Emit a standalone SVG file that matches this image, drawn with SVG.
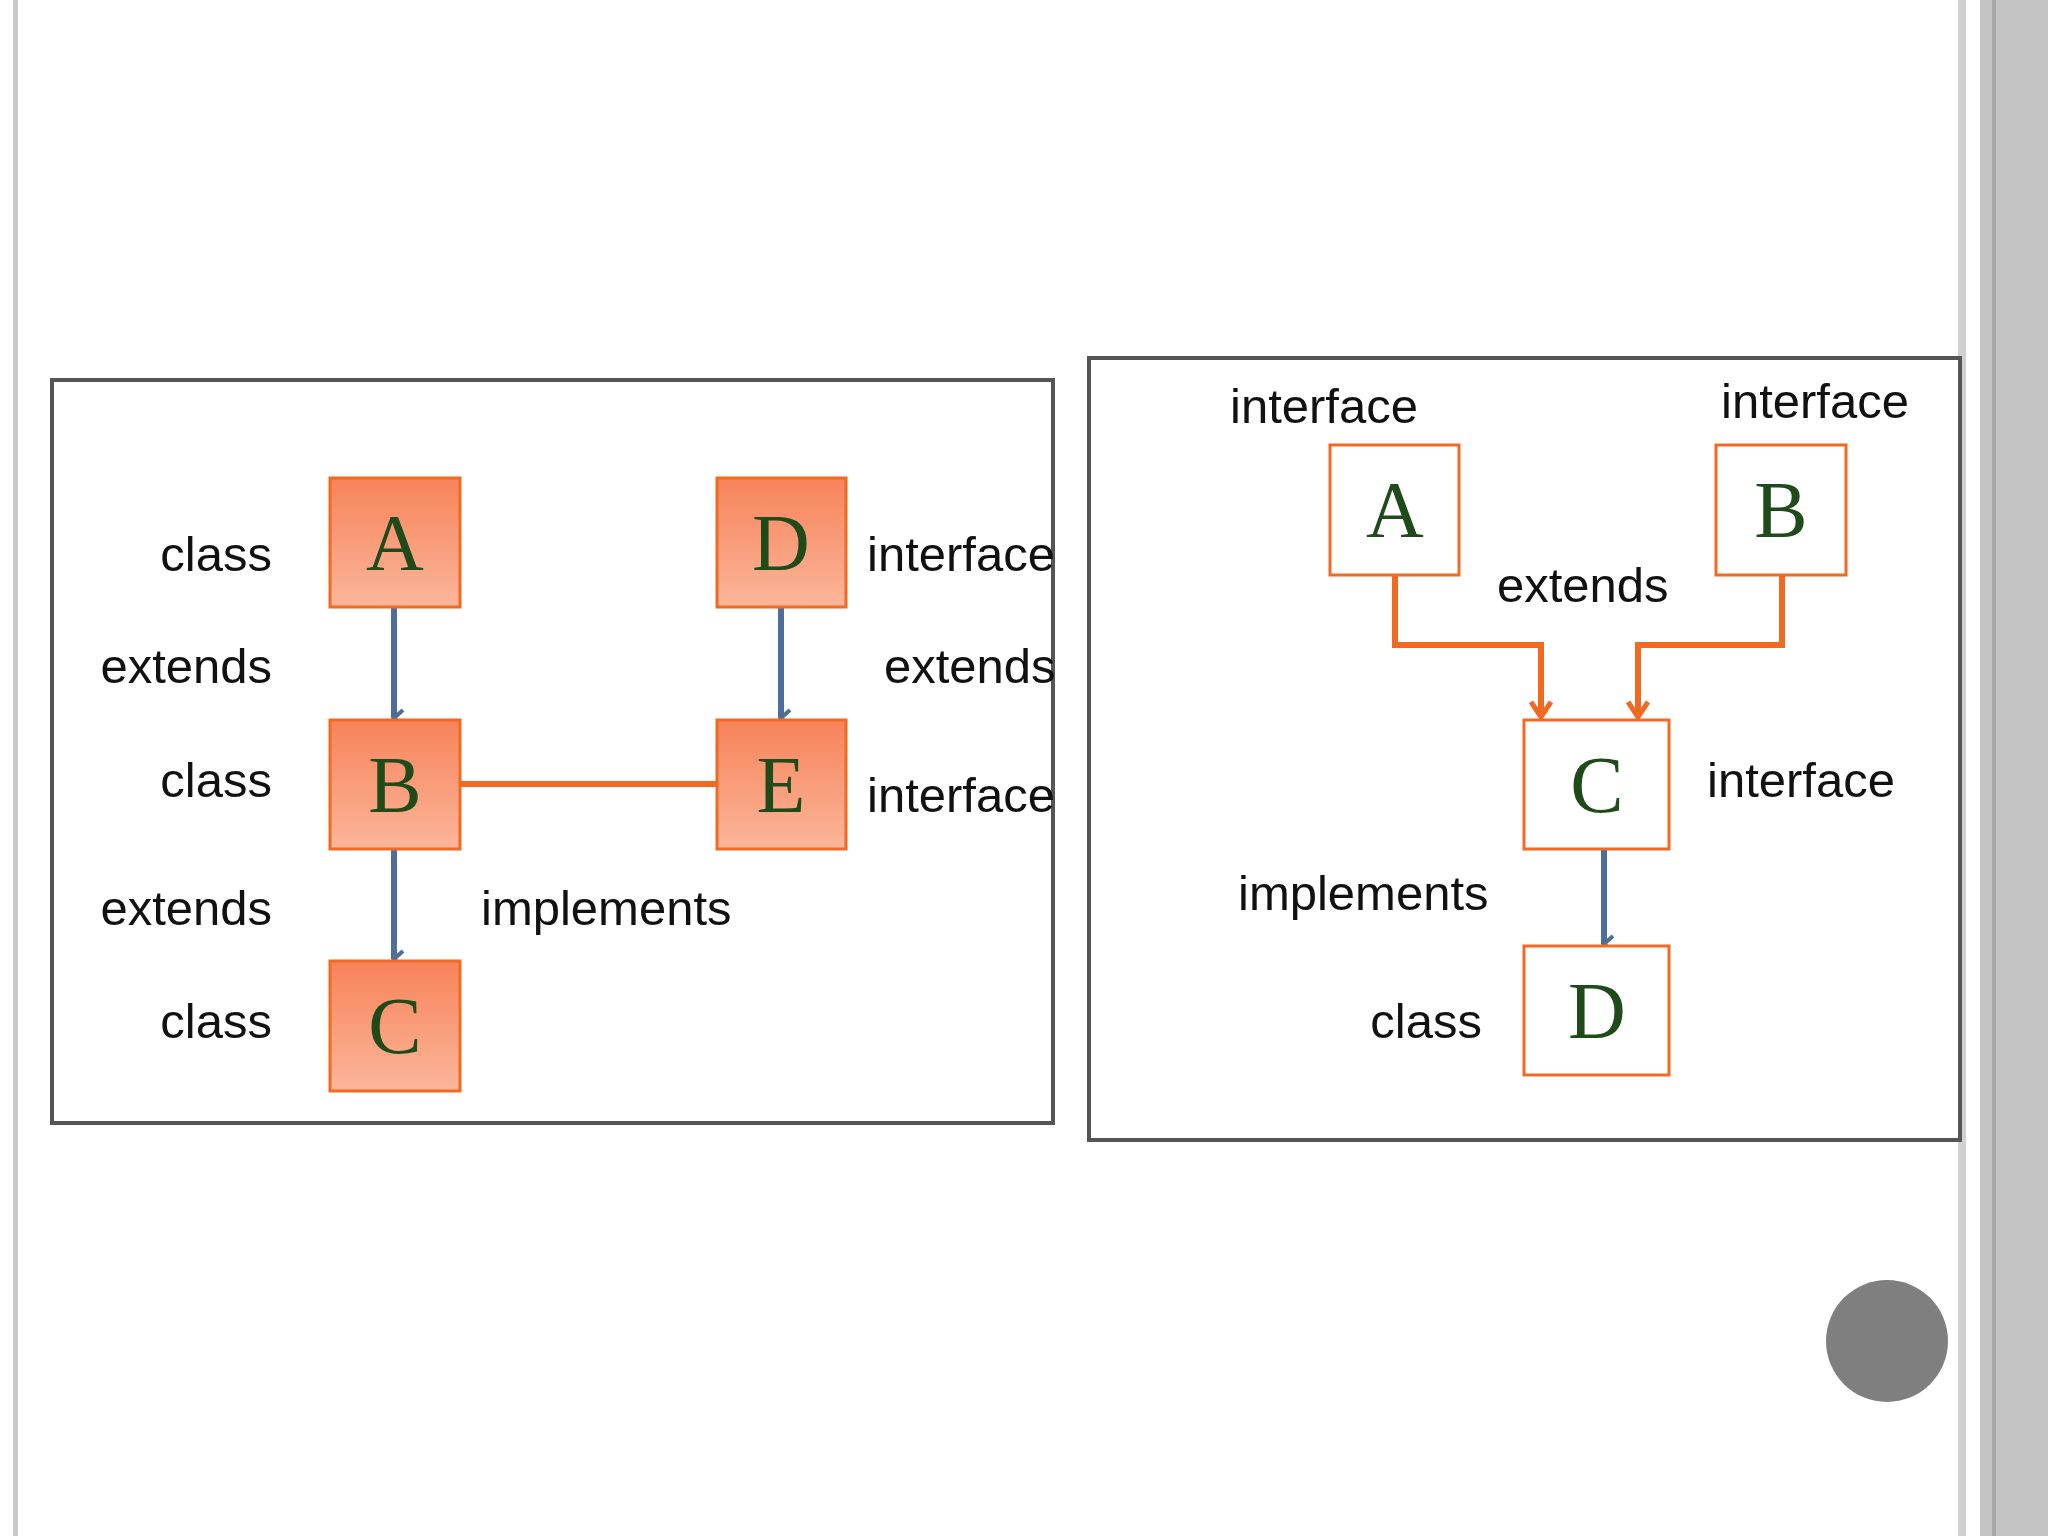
<svg xmlns="http://www.w3.org/2000/svg" width="2048" height="1536" viewBox="0 0 2048 1536">
<defs>
<linearGradient id="og" x1="0" y1="0" x2="0" y2="1"><stop offset="0" stop-color="#f7835a"/><stop offset="1" stop-color="#fbb69a"/></linearGradient>
<marker id="ab" viewBox="0 0 20 20" refX="10" refY="17" markerWidth="20" markerHeight="20" markerUnits="userSpaceOnUse" orient="auto-start-reverse"><path d="M2 8 L10 17 L18 8" fill="none" stroke="#4f6d99" stroke-width="4"/></marker>
<marker id="ao" viewBox="0 0 24 24" refX="12" refY="21" markerWidth="24" markerHeight="24" markerUnits="userSpaceOnUse"><path d="M2 6 L12 21 L22 6" fill="none" stroke="#f26a21" stroke-width="5"/></marker>
</defs>
<style>
.t{font-family:"Liberation Sans",Arial,sans-serif;font-size:49px;fill:#111}
.l{font-family:"Liberation Serif","Times New Roman",serif;font-size:80px;fill:#1f4a1a;text-anchor:middle}
.fn{fill:url(#og);stroke:#f26a21;stroke-width:3}
.wn{fill:#fff;stroke:#f26a21;stroke-width:3}
.fr{fill:none;stroke:#555;stroke-width:4}
.bl{stroke:#4f6d99;stroke-width:6;fill:none;marker-end:url(#ab)}
.or{stroke:#f26a21;stroke-width:6;fill:none}
</style>
<rect width="2048" height="1536" fill="#fff"/>
<rect x="13" y="0" width="5" height="1536" fill="#c8c8c8"/>
<rect x="1958" y="0" width="8" height="1536" fill="#d0d0d0"/>
<rect x="1980" y="0" width="68" height="1536" fill="#c4c4c4"/>
<rect x="1992" y="0" width="4" height="1536" fill="#a8a8a8"/>
<rect x="52" y="380" width="1001" height="743" class="fr"/>
<rect x="1089" y="358" width="871" height="782" class="fr"/>
<g id="connectors">
<line x1="394" y1="607" x2="394" y2="718" class="bl"/>
<line x1="394" y1="849" x2="394" y2="959" class="bl"/>
<line x1="781" y1="607" x2="781" y2="718" class="bl"/>
<line x1="460" y1="784" x2="717" y2="784" class="or"/>
<path d="M1395 575 V645 H1541 V717" class="or" marker-end="url(#ao)"/>
<path d="M1782 575 V645 H1638 V717" class="or" marker-end="url(#ao)"/>
<line x1="1604" y1="834" x2="1604" y2="944" class="bl"/>
</g>
<g id="L_A"><rect x="330" y="478" width="130" height="129" class="fn"/><text x="395" y="570" class="l">A</text></g>
<g id="L_B"><rect x="330" y="720" width="130" height="129" class="fn"/><text x="395" y="812" class="l">B</text></g>
<g id="L_C"><rect x="330" y="961" width="130" height="130" class="fn"/><text x="395" y="1053" class="l">C</text></g>
<g id="L_D"><rect x="717" y="478" width="129" height="129" class="fn"/><text x="781" y="570" class="l">D</text></g>
<g id="L_E"><rect x="717" y="720" width="129" height="129" class="fn"/><text x="781" y="812" class="l">E</text></g>
<g id="R_A"><rect x="1330" y="445" width="129" height="130" class="wn"/><text x="1395" y="537" class="l">A</text></g>
<g id="R_B"><rect x="1716" y="445" width="130" height="130" class="wn"/><text x="1781" y="537" class="l">B</text></g>
<g id="R_C"><rect x="1524" y="720" width="145" height="129" class="wn"/><text x="1597" y="812" class="l">C</text></g>
<g id="R_D"><rect x="1524" y="946" width="145" height="129" class="wn"/><text x="1597" y="1038" class="l">D</text></g>
<g id="labels">
<text x="272" y="571" class="t" text-anchor="end">class</text>
<text x="272" y="683" class="t" text-anchor="end">extends</text>
<text x="272" y="797" class="t" text-anchor="end">class</text>
<text x="272" y="925" class="t" text-anchor="end">extends</text>
<text x="272" y="1038" class="t" text-anchor="end">class</text>
<text x="867" y="571" class="t">interface</text>
<text x="884" y="683" class="t">extends</text>
<text x="867" y="812" class="t">interface</text>
<text x="481" y="925" class="t">implements</text>
<text x="1230" y="423" class="t">interface</text>
<text x="1721" y="418" class="t">interface</text>
<text x="1497" y="602" class="t">extends</text>
<text x="1707" y="797" class="t">interface</text>
<text x="1238" y="910" class="t">implements</text>
<text x="1482" y="1038" class="t" text-anchor="end">class</text>
</g>
<circle cx="1887" cy="1341" r="61" fill="#7f7f7f"/>
</svg>
